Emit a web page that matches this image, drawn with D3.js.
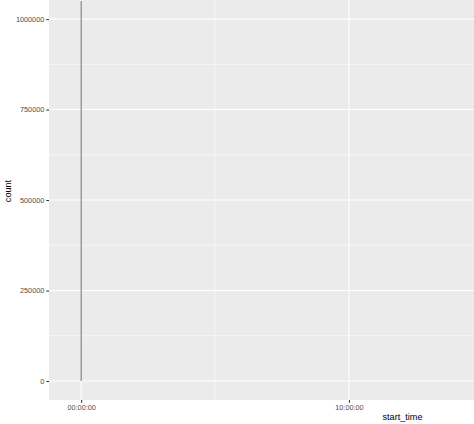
<!DOCTYPE html>
<html><head><meta charset="utf-8">
<script src="https://cdn.jsdelivr.net/npm/d3@7"></script>
<style>html,body{margin:0;padding:0;background:#fff;overflow:hidden}svg{display:block;font-family:"Liberation Sans",Arial,sans-serif}</style>
</head><body>
<script>
// data: histogram bins of start_time (seconds from midnight)
const binCenters = [0];          // seconds
const binCounts = [1050000];
const binWidthSec = 120;
const dataRangeSec = [0, 86400]; // observed start_time range
const xTickLabels = ["00:00:00", "10:00:00"];
const xTickValues = [0, 36000];
const yTickValues = [0, 250000, 500000, 750000, 1000000];

const W = 474, H = 424;
const panel = {left: 49, right: 756, top: -18, bottom: 400};

const svg = d3.select("body").append("svg").attr("width", W).attr("height", H);
svg.append("rect").attr("width", W).attr("height", H).attr("fill", "#fff");

const xr = dataRangeSec[1] - dataRangeSec[0];
const x = d3.scaleLinear().domain([dataRangeSec[0] - 0.05 * xr, dataRangeSec[1] + 0.05 * xr]).range([panel.left, panel.right]);
const ymax = d3.max(binCounts);
const y = d3.scaleLinear().domain([-0.05 * ymax, ymax * 1.05]).range([panel.bottom, panel.top]);

svg.append("rect").attr("x", panel.left).attr("y", panel.top)
  .attr("width", panel.right - panel.left).attr("height", panel.bottom - panel.top).attr("fill", "#EBEBEB");

const g = svg.append("g");
// minor gridlines
const yMinor = [125000, 375000, 625000, 875000];
g.selectAll(".ymin").data(yMinor).enter().append("line")
  .attr("x1", panel.left).attr("x2", panel.right).attr("y1", d => y(d)).attr("y2", d => y(d))
  .attr("stroke", "#fff").attr("stroke-width", 0.55);
const xMinor = [-18000, 18000, 54000, 90000];
g.selectAll(".xmin").data(xMinor.filter(d => x(d) >= panel.left && x(d) <= panel.right)).enter().append("line")
  .attr("y1", panel.top).attr("y2", panel.bottom).attr("x1", d => x(d)).attr("x2", d => x(d))
  .attr("stroke", "#fff").attr("stroke-width", 0.55);
// major gridlines
g.selectAll(".ymaj").data(yTickValues).enter().append("line")
  .attr("x1", panel.left).attr("x2", panel.right).attr("y1", d => y(d)).attr("y2", d => y(d))
  .attr("stroke", "#fff").attr("stroke-width", 1.1);
g.selectAll(".xmaj").data([0, 36000, 72000]).enter().append("line")
  .attr("y1", panel.top).attr("y2", panel.bottom).attr("x1", d => x(d)).attr("x2", d => x(d))
  .attr("stroke", "#fff").attr("stroke-width", 1.1);

// bars
svg.selectAll(".bar").data(binCenters.map((c, i) => ({c, n: binCounts[i]}))).enter().append("rect")
  .attr("x", d => x(d.c - binWidthSec / 2))
  .attr("width", d => x(d.c + binWidthSec / 2) - x(d.c - binWidthSec / 2))
  .attr("y", d => y(d.n)).attr("height", d => y(0) - y(d.n))
  .attr("fill", "#595959");

// axes
const yAxis = d3.axisLeft(y).tickValues(yTickValues).tickFormat(d3.format("d")).tickSize(2.7).tickPadding(2);
const ya = svg.append("g").attr("transform", `translate(${panel.left},0)`).call(yAxis);
ya.select(".domain").remove();
ya.selectAll("line").attr("stroke", "#333333").attr("stroke-width", 1.07);
ya.selectAll("text").attr("fill", "#4D4D4D").attr("font-size", 7.3).attr("font-family", "Liberation Sans, Arial, sans-serif");

const xAxis = d3.axisBottom(x).tickValues(xTickValues).tickFormat((d, i) => xTickLabels[i]).tickSize(2.7).tickPadding(2);
const xa = svg.append("g").attr("transform", `translate(0,${panel.bottom})`).call(xAxis);
xa.select(".domain").remove();
xa.selectAll("line").attr("stroke", "#333333").attr("stroke-width", 1.07);
xa.selectAll("text").attr("fill", "#4D4D4D").attr("font-size", 7.3).attr("font-family", "Liberation Sans, Arial, sans-serif");

svg.append("text").attr("x", (panel.left + panel.right) / 2).attr("y", 420)
  .attr("text-anchor", "middle").attr("font-size", 9.1).attr("fill", "#000").text("start_time");
svg.append("text").attr("transform", `translate(11,${(panel.top + panel.bottom) / 2}) rotate(-90)`)
  .attr("text-anchor", "middle").attr("font-size", 9.1).attr("fill", "#000").text("count");
</script>
</body></html>
